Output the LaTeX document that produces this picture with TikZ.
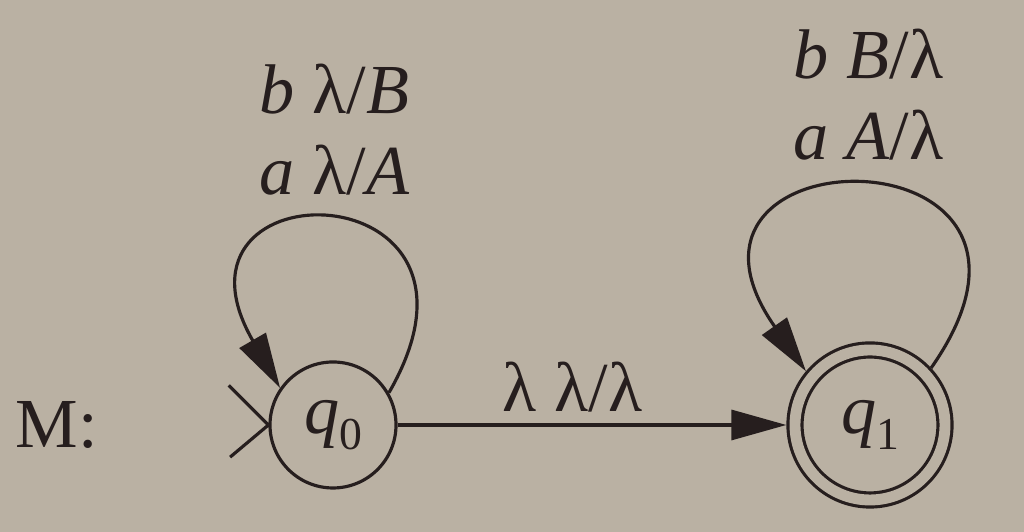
\documentclass[tikz,border=0pt]{standalone}
\usepackage{fontspec}
\setmainfont{Liberation Serif}
\usetikzlibrary{positioning,arrows.meta}

\definecolor{paper}{RGB}{186,177,163}
\definecolor{ink}{RGB}{38,30,30}
\newcommand{\qname}[1]{\textit{q}\raisebox{-.5ex}{\fontsize{13}{13}\selectfont #1}}

\begin{document}
\begin{tikzpicture}[->,>={Triangle[length=5.5mm,width=3mm]},auto,node distance=5.37cm,line width=0.9pt,color=ink,
    every node/.style={font=\fontsize{20}{23}\selectfont},
    state/.style={circle,draw,minimum size=1.26cm,inner sep=0pt},
    accepting/.style={double=paper,double distance=3.1pt,minimum size=1.5cm,outer sep=2.45pt}]
    \useasboundingbox (0,0) rectangle (10.24,5.32);
    \fill[paper] (0,0) rectangle (10.24,5.32);

    \node[state] (q0) at (3.33,1.07) {\qname{0}};
    \node[state,accepting] (q1) [right of=q0] {\qname{1}};
    \node (m) [left of=q0, node distance=2.76cm] {M:};

    % start marker
    \draw[-] (q0.west) -- +(135:0.56) (q0.west) -- +(-140:0.5);

    \path
        (q0) edge node[pos=0.45] {λ λ/λ} (q1)
        (q0.30) edge [out=60, in=120, distance=2.6cm]
            node[above=1.3mm, align=center] {\textit{b} λ/\textit{B}\\\textit{a} λ/\textit{A}} (q0.145)
        (q1.43) edge [out=55, in=125, distance=2.97cm]
            node[above=1.4mm, align=center] {\textit{b} \textit{B}/λ\\\textit{a} \textit{A}/λ} (q1.140)
        ;
\end{tikzpicture}
\end{document}
